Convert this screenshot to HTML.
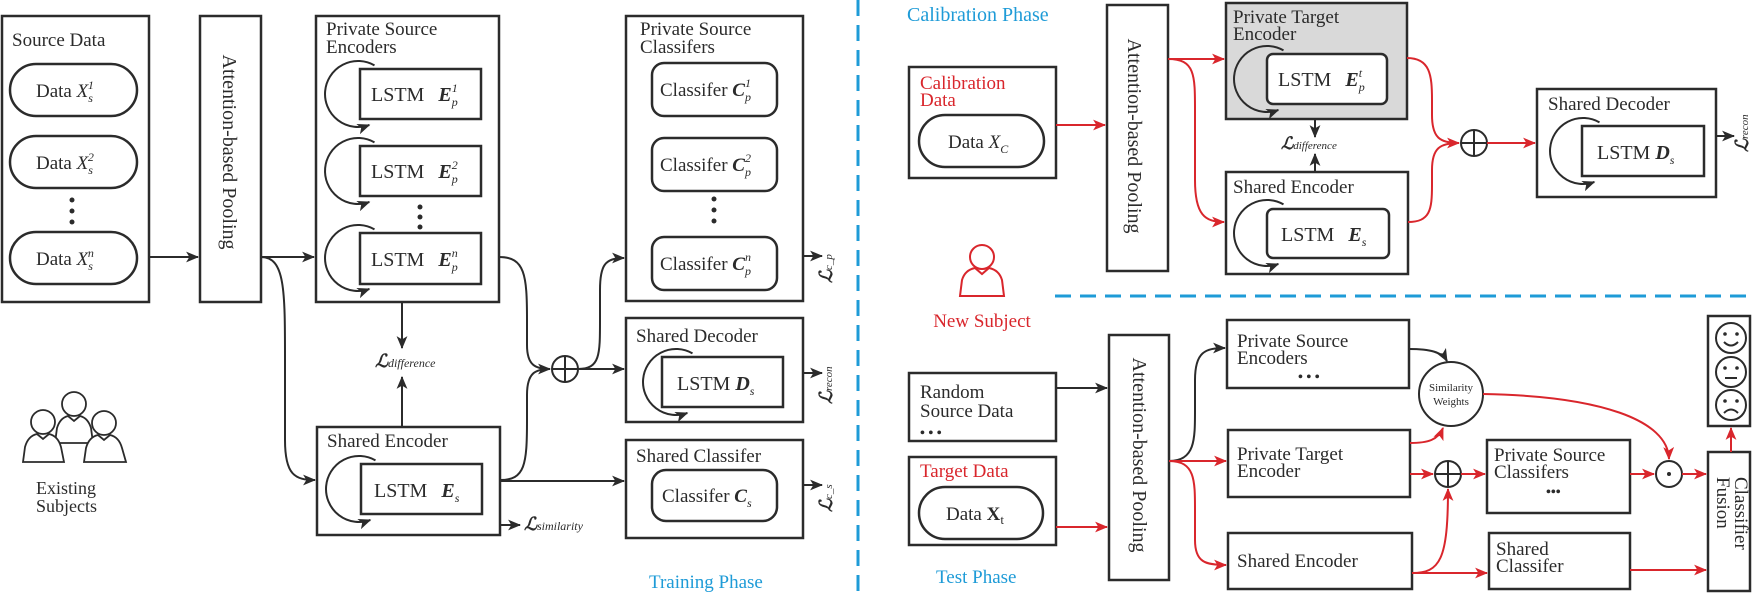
<!DOCTYPE html>
<html><head><meta charset="utf-8"><style>
html,body{margin:0;padding:0;background:#fff}
svg{display:block}
text{font-family:"Liberation Serif",serif;fill:#2b2b2b}
</style></head><body>
<svg width="1752" height="599" viewBox="0 0 1752 599" xmlns="http://www.w3.org/2000/svg">
<defs>
<marker id="ak" viewBox="0 0 12 10" refX="11" refY="5" markerWidth="13" markerHeight="11" markerUnits="userSpaceOnUse" orient="auto"><path d="M0,0 L12,5 L0,10 L3,5 z" fill="#2b2b2b"/></marker>
<marker id="ar" viewBox="0 0 12 10" refX="11" refY="5" markerWidth="13" markerHeight="11" markerUnits="userSpaceOnUse" orient="auto"><path d="M0,0 L12,5 L0,10 L3,5 z" fill="#d9262c"/></marker>
</defs>
<g fill="none" stroke="#2b2b2b" stroke-width="2.5">
<rect x="2" y="16" width="147" height="286"/>
<rect x="10" y="64" width="127" height="52" rx="26"/>
<rect x="10" y="136" width="127" height="52" rx="26"/>
<rect x="10" y="232" width="127" height="52" rx="26"/>
<rect x="200" y="16" width="61" height="286"/>
<rect x="316" y="16" width="183" height="286"/>
<rect x="626" y="16" width="177" height="285"/>
<rect x="626" y="318" width="177" height="104"/>
<rect x="626" y="440" width="177" height="98"/>
<rect x="317" y="427" width="183" height="108"/>
<rect x="652" y="63" width="125" height="53" rx="12"/>
<rect x="652" y="138" width="125" height="53" rx="12"/>
<rect x="652" y="237" width="125" height="53" rx="12"/>
<rect x="652" y="470" width="125" height="51" rx="14"/>
</g>
<g fill="none" stroke="#2b2b2b" stroke-width="2">
<path d="M374.5,65.4 A33,33 0 1 0 369.3,125" marker-end="url(#ak)"/>
<path d="M374.5,142.4 A33,33 0 1 0 369.3,202" marker-end="url(#ak)"/>
<path d="M374.5,229.4 A33,33 0 1 0 369.3,289" marker-end="url(#ak)"/>
<path d="M375.5,460.4 A33,33 0 1 0 370.3,520" marker-end="url(#ak)"/>
<path d="M692.5,353.4 A33,33 0 1 0 687.3,413" marker-end="url(#ak)"/>
</g>
<g fill="#fff" stroke="#2b2b2b" stroke-width="2.5">
<rect x="360" y="69" width="121" height="50"/>
<rect x="360" y="146" width="121" height="50"/>
<rect x="360" y="233" width="121" height="51"/>
<rect x="361" y="464" width="121" height="50"/>
<rect x="662" y="357" width="121" height="50"/>
</g>
<g fill="none" stroke="#2b2b2b" stroke-width="2">
<path d="M149,257 L198,257" marker-end="url(#ak)"/>
<path d="M261,257 L314,257" marker-end="url(#ak)"/>
<path d="M261,257 C285,257 285,290 285,360 L285,440 C285,475 295,480 315,480" marker-end="url(#ak)"/>
<path d="M402,302 L402,348" marker-end="url(#ak)"/>
<path d="M402,427 L402,377" marker-end="url(#ak)"/>
<path d="M499,257 C525,257 527,275 527,320 L527,345 C527,365 535,369 550,369" marker-end="url(#ak)"/>
<path d="M500,480 C525,480 527,465 527,420 L527,395 C527,373 535,369 550,369"/>
<path d="M578,369 C600,369 600,355 600,320 L600,290 C600,265 605,258 624,258" marker-end="url(#ak)"/>
<path d="M578,369 L624,369" marker-end="url(#ak)"/>
<path d="M500,481 L624,481" marker-end="url(#ak)"/>
<path d="M500,525 L520,525" marker-end="url(#ak)"/>
<path d="M803,256 L822,256" marker-end="url(#ak)"/>
<path d="M803,373 L822,373" marker-end="url(#ak)"/>
<path d="M803,485 L822,485" marker-end="url(#ak)"/>
<circle cx="565" cy="369" r="13"/>
<path d="M552,369 H578 M565,356 V382"/>
</g>
<g fill="#2b2b2b">
<circle cx="72" cy="200" r="2.5"/><circle cx="72" cy="211" r="2.5"/><circle cx="72" cy="222" r="2.5"/>
<circle cx="420" cy="207" r="2.5"/><circle cx="420" cy="217" r="2.5"/><circle cx="420" cy="227" r="2.5"/>
<circle cx="714" cy="199" r="2.5"/><circle cx="714" cy="210" r="2.5"/><circle cx="714" cy="221" r="2.5"/>
</g>
<g fill="#fff" stroke="#2b2b2b" stroke-width="1.8">
<path d="M55,443 L57,428 Q60,418 68,416 L74,421 L80,416 Q88,418 91,428 L93,443 Z"/>
<circle cx="74" cy="404" r="12"/>
<path d="M23,462 L25,447 Q28,436 37,434 L43,439 L49,434 Q58,436 61,447 L64,462 Z"/>
<circle cx="43" cy="422" r="12"/>
<path d="M84,462 L86,448 Q89,437 98,435 L104,440 L110,435 Q119,437 122,448 L126,462 Z"/>
<circle cx="104" cy="423" r="12"/>
</g>
<g font-size="19">
<text x="12" y="46">Source Data</text>
<text x="326" y="35">Private Source</text>
<text x="326" y="53">Encoders</text>
<text x="640" y="35">Private Source</text>
<text x="640" y="53">Classifers</text>
<text x="636" y="342">Shared Decoder</text>
<text x="636" y="462">Shared Classifer</text>
<text x="327" y="447">Shared Encoder</text>
<text x="36" y="494" font-size="18">Existing</text>
<text x="36" y="512" font-size="18">Subjects</text>
<text x="649" y="588" style="fill:#1e9bd7">Training Phase</text>
</g>
<g font-size="19">
<text x="36" y="97">Data <tspan font-style="italic">X</tspan><tspan font-style="italic" font-size="12" dy="5">s</tspan><tspan font-style="italic" font-size="12" dx="-5" dy="-13">1</tspan></text>
<text x="36" y="169">Data <tspan font-style="italic">X</tspan><tspan font-style="italic" font-size="12" dy="5">s</tspan><tspan font-style="italic" font-size="12" dx="-5" dy="-13">2</tspan></text>
<text x="36" y="265">Data <tspan font-style="italic">X</tspan><tspan font-style="italic" font-size="12" dy="5">s</tspan><tspan font-style="italic" font-size="12" dx="-5" dy="-13">n</tspan></text>
</g>
<g font-size="20">
<text x="371" y="101">LSTM<tspan dx="14" font-weight="bold" font-style="italic">E</tspan><tspan font-style="italic" font-size="12" dy="5">p</tspan><tspan font-style="italic" font-size="12" dx="-6" dy="-14">1</tspan></text>
<text x="371" y="178">LSTM<tspan dx="14" font-weight="bold" font-style="italic">E</tspan><tspan font-style="italic" font-size="12" dy="5">p</tspan><tspan font-style="italic" font-size="12" dx="-6" dy="-14">2</tspan></text>
<text x="371" y="266">LSTM<tspan dx="14" font-weight="bold" font-style="italic">E</tspan><tspan font-style="italic" font-size="12" dy="5">p</tspan><tspan font-style="italic" font-size="12" dx="-6" dy="-14">n</tspan></text>
<text x="374" y="497">LSTM<tspan dx="14" font-weight="bold" font-style="italic">E</tspan><tspan font-style="italic" font-size="12" dy="5">s</tspan></text>
<text x="677" y="390">LSTM<tspan dx="5" font-weight="bold" font-style="italic">D</tspan><tspan font-style="italic" font-size="12" dy="5">s</tspan></text>
</g>
<g font-size="19">
<text x="660" y="96">Classifer <tspan font-weight="bold" font-style="italic">C</tspan><tspan font-style="italic" font-size="12" dy="5">p</tspan><tspan font-style="italic" font-size="12" dx="-6" dy="-14">1</tspan></text>
<text x="660" y="171">Classifer <tspan font-weight="bold" font-style="italic">C</tspan><tspan font-style="italic" font-size="12" dy="5">p</tspan><tspan font-style="italic" font-size="12" dx="-6" dy="-14">2</tspan></text>
<text x="660" y="270">Classifer <tspan font-weight="bold" font-style="italic">C</tspan><tspan font-style="italic" font-size="12" dy="5">p</tspan><tspan font-style="italic" font-size="12" dx="-6" dy="-14">n</tspan></text>
<text x="662" y="502">Classifer <tspan font-weight="bold" font-style="italic">C</tspan><tspan font-style="italic" font-size="12" dy="5">s</tspan></text>
</g>
<text transform="translate(223,152) rotate(90)" text-anchor="middle" font-size="20">Attention-based Pooling</text>
<text x="375" y="367" font-size="18" font-weight="bold" font-style="italic">ℒ<tspan font-weight="normal" font-size="12">difference</tspan></text>
<text x="524" y="530" font-size="18" font-weight="bold" font-style="italic">ℒ<tspan font-weight="normal" font-size="12">similarity</tspan></text>
<text transform="translate(832,283) rotate(-90)" font-size="18" font-weight="bold" font-style="italic">ℒ<tspan font-weight="normal" font-size="11">c_p</tspan></text>
<text transform="translate(832,404) rotate(-90)" font-size="18" font-weight="bold" font-style="italic">ℒ<tspan font-weight="normal" font-size="11">recon</tspan></text>
<text transform="translate(832,512) rotate(-90)" font-size="18" font-weight="bold" font-style="italic">ℒ<tspan font-weight="normal" font-size="11">c_s</tspan></text>

<g stroke="#1e9bd7" stroke-width="3" stroke-dasharray="16,9">
<path d="M858,0 V599"/>
<path d="M1055,296 H1752"/>
</g>

<text x="907" y="21" font-size="20" style="fill:#1e9bd7">Calibration Phase</text>
<g fill="none" stroke="#2b2b2b" stroke-width="2.5">
<rect x="909" y="67" width="147" height="111"/>
<rect x="919" y="115" width="125" height="52" rx="26"/>
<rect x="1107" y="5" width="61" height="266"/>
<rect x="1226" y="3" width="181" height="116" fill="#d9d9d9"/>
<rect x="1226" y="172" width="182" height="102"/>
<rect x="1537" y="89" width="179" height="108"/>
</g>
<g fill="none" stroke="#2b2b2b" stroke-width="2">
<path d="M1283.5,50.4 A33,33 0 1 0 1278.3,110" marker-end="url(#ak)"/>
<path d="M1283.5,204.4 A33,33 0 1 0 1278.3,264" marker-end="url(#ak)"/>
<path d="M1599.5,122.4 A33,33 0 1 0 1594.3,182" marker-end="url(#ak)"/>
</g>
<g fill="#fff" stroke="#2b2b2b" stroke-width="2.5">
<rect x="1267" y="54" width="120" height="50" rx="6"/>
<rect x="1267" y="209" width="122" height="49" rx="6"/>
<rect x="1582" y="126" width="122" height="50"/>
</g>
<g font-size="19">
<text x="920" y="89" style="fill:#d9262c">Calibration</text>
<text x="920" y="106" style="fill:#d9262c">Data</text>
<text x="948" y="148">Data <tspan font-style="italic">X</tspan><tspan font-style="italic" font-size="12" dy="5">C</tspan></text>
<text x="1233" y="23">Private Target</text>
<text x="1233" y="40">Encoder</text>
<text x="1233" y="193">Shared Encoder</text>
<text x="1548" y="110">Shared Decoder</text>
</g>
<g font-size="20">
<text x="1278" y="86">LSTM<tspan dx="14" font-weight="bold" font-style="italic">E</tspan><tspan font-style="italic" font-size="12" dy="5">p</tspan><tspan font-style="italic" font-size="12" dx="-6" dy="-14">t</tspan></text>
<text x="1281" y="241">LSTM<tspan dx="14" font-weight="bold" font-style="italic">E</tspan><tspan font-style="italic" font-size="12" dy="5">s</tspan></text>
<text x="1597" y="159">LSTM<tspan dx="5" font-weight="bold" font-style="italic">D</tspan><tspan font-style="italic" font-size="12" dy="5">s</tspan></text>
</g>
<text transform="translate(1128,136) rotate(90)" text-anchor="middle" font-size="20">Attention-based Pooling</text>
<text x="1281" y="149" font-size="17" font-weight="bold" font-style="italic">ℒ<tspan font-weight="normal" font-size="11">difference</tspan></text>
<text transform="translate(1748,152) rotate(-90)" font-size="18" font-weight="bold" font-style="italic">ℒ<tspan font-weight="normal" font-size="11">recon</tspan></text>
<g fill="none" stroke="#2b2b2b" stroke-width="2">
<path d="M1315,119 L1315,137" marker-end="url(#ak)"/>
<path d="M1315,172 L1315,154" marker-end="url(#ak)"/>
<path d="M1716,136 L1734,136" marker-end="url(#ak)"/>
<circle cx="1474" cy="143" r="13"/>
<path d="M1461,143 H1487 M1474,130 V156"/>
</g>
<g fill="none" stroke="#d9262c" stroke-width="2">
<path d="M1056,125 L1105,125" marker-end="url(#ar)"/>
<path d="M1168,59 L1224,59" marker-end="url(#ar)"/>
<path d="M1168,59 C1195,59 1195,75 1195,110 L1195,180 C1195,215 1205,222 1224,222" marker-end="url(#ar)"/>
<path d="M1407,58 C1430,58 1432,75 1432,100 L1432,115 C1432,138 1440,143 1459,143" marker-end="url(#ar)"/>
<path d="M1408,222 C1430,222 1432,210 1432,185 L1432,170 C1432,148 1440,143 1459,143"/>
<path d="M1487,143 L1535,143" marker-end="url(#ar)"/>
</g>

<g fill="#fff" stroke="#d9262c" stroke-width="2">
<path d="M960,296 L962,280 Q965,270 975,268 L982,274 L989,268 Q999,270 1002,280 L1004,296 Z"/>
<circle cx="982" cy="257" r="12"/>
</g>
<text x="982" y="327" font-size="19" text-anchor="middle" style="fill:#d9262c">New Subject</text>

<g fill="none" stroke="#2b2b2b" stroke-width="2.5">
<rect x="909" y="373" width="147" height="68"/>
<rect x="909" y="457" width="147" height="88"/>
<rect x="919" y="487" width="124" height="52" rx="26"/>
<rect x="1109" y="335" width="60" height="245"/>
<rect x="1227" y="320" width="182" height="68"/>
<rect x="1228" y="430" width="182" height="67"/>
<rect x="1228" y="533" width="184" height="56"/>
<rect x="1487" y="440" width="143" height="73"/>
<rect x="1489" y="533" width="141" height="56"/>
<rect x="1708" y="452" width="42" height="139"/>
<rect x="1708" y="316" width="42" height="110"/>
</g>
<g fill="none" stroke="#2b2b2b" stroke-width="2">
<circle cx="1451" cy="394" r="32"/>
<circle cx="1448" cy="474" r="13"/>
<path d="M1435,474 H1461 M1448,461 V487"/>
<circle cx="1669" cy="474" r="13"/>
<circle cx="1731" cy="338" r="15"/>
<circle cx="1731" cy="372" r="15"/>
<circle cx="1731" cy="405" r="15"/>
<path d="M1724,342 Q1731,349 1738,342"/>
<path d="M1725,378 H1737"/>
<path d="M1724,413 Q1731,406 1738,413"/>
<path d="M1169,461 C1195,461 1195,440 1195,410 L1195,380 C1195,352 1205,348 1225,348" marker-end="url(#ak)"/>
<path d="M1056,388 L1107,388" marker-end="url(#ak)"/>
<path d="M1409,349 C1430,349 1442,352 1447,361" marker-end="url(#ak)"/>
</g>
<g fill="#2b2b2b">
<circle cx="1669" cy="474" r="2"/>
<circle cx="1725" cy="334" r="1.8"/><circle cx="1737" cy="334" r="1.8"/>
<circle cx="1725" cy="368" r="1.8"/><circle cx="1737" cy="368" r="1.8"/>
<circle cx="1725" cy="401" r="1.8"/><circle cx="1737" cy="401" r="1.8"/>
</g>
<g fill="none" stroke="#d9262c" stroke-width="2">
<path d="M1056,527 L1107,527" marker-end="url(#ar)"/>
<path d="M1169,461 L1226,461" marker-end="url(#ar)"/>
<path d="M1169,461 C1195,461 1195,480 1195,510 L1195,540 C1195,562 1205,565 1226,565" marker-end="url(#ar)"/>
<path d="M1410,443 C1428,443 1438,440 1443,428" marker-end="url(#ar)"/>
<path d="M1483,394 C1600,396 1668,420 1669,459" marker-end="url(#ar)"/>
<path d="M1410,474 L1433,474" marker-end="url(#ar)"/>
<path d="M1412,573 C1440,573 1448,560 1448,489" marker-end="url(#ar)"/>
<path d="M1412,573 L1487,573" marker-end="url(#ar)"/>
<path d="M1461,474 L1485,474" marker-end="url(#ar)"/>
<path d="M1630,474 L1654,474" marker-end="url(#ar)"/>
<path d="M1682,474 L1706,474" marker-end="url(#ar)"/>
<path d="M1630,570 L1706,570" marker-end="url(#ar)"/>
<path d="M1731,452 L1731,428" marker-end="url(#ar)"/>
</g>
<g font-size="19">
<text x="920" y="398">Random</text>
<text x="920" y="417">Source Data</text>
<text x="920" y="437" font-size="14" font-weight="bold">• • •</text>
<text x="920" y="477" style="fill:#d9262c">Target Data</text>
<text x="946" y="520">Data <tspan font-weight="bold">X</tspan><tspan font-size="13" dy="4">t</tspan></text>
<text x="1237" y="347">Private Source</text>
<text x="1237" y="364">Encoders</text>
<text x="1298" y="381" font-size="14" font-weight="bold">• • •</text>
<text x="1237" y="460">Private Target</text>
<text x="1237" y="477">Encoder</text>
<text x="1237" y="567">Shared Encoder</text>
<text x="1494" y="461">Private Source</text>
<text x="1494" y="478">Classifers</text>
<text x="1546" y="496" font-size="14" font-weight="bold">•••</text>
<text x="1496" y="555">Shared</text>
<text x="1496" y="572">Classifer</text>
<text x="936" y="583" style="fill:#1e9bd7">Test Phase</text>
</g>
<text x="1451" y="391" font-size="11" text-anchor="middle">Similarity</text>
<text x="1451" y="405" font-size="11" text-anchor="middle">Weights</text>
<text transform="translate(1133,455) rotate(90)" text-anchor="middle" font-size="20">Attention-based Pooling</text>
<text transform="translate(1735,477) rotate(90)" font-size="19">Classifier</text>
<text transform="translate(1717,477) rotate(90)" font-size="19">Fusion</text>
</svg>
</body></html>
